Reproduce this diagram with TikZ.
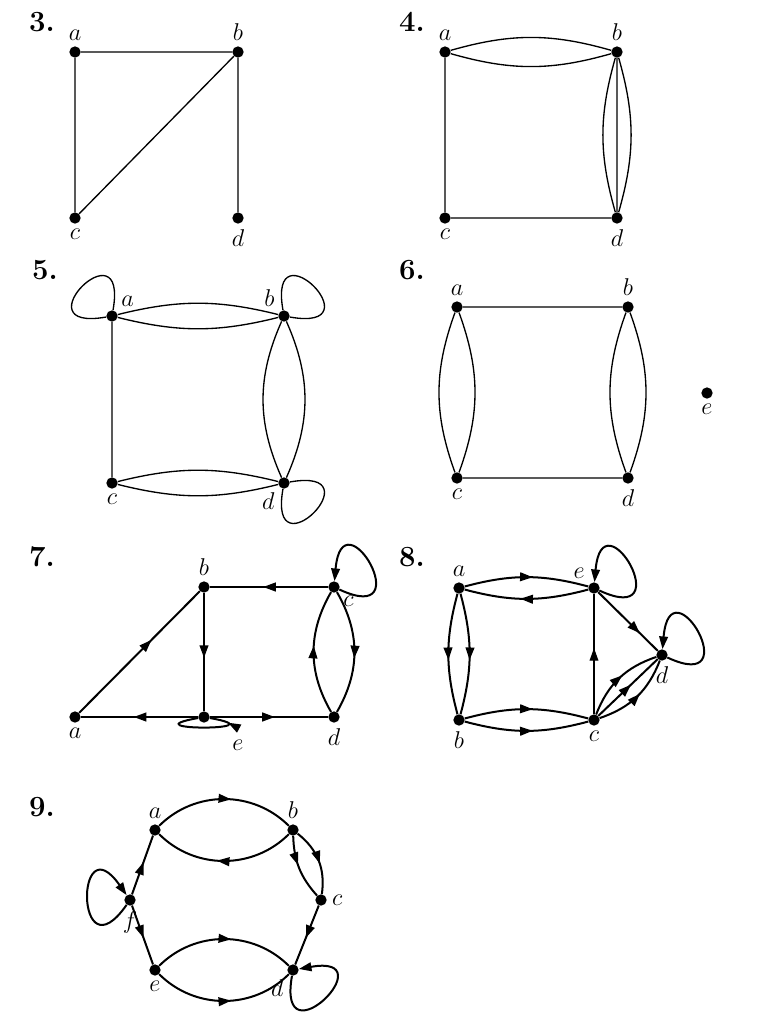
\documentclass[tikz,border=0pt]{standalone}
\usepackage{amsmath}
\usetikzlibrary{arrows.meta,decorations.markings}

\tikzset{
  vtx/.style={circle, fill, inner sep=0pt, minimum size=3.4mm},
  lbl/.style={font=\fontsize{20}{24}\selectfont, inner sep=1.5mm},
  num/.style={font=\fontsize{25}{30}\selectfont\bfseries},
  tip/.tip={Triangle[length=3.8mm, width=2.6mm]},
  midarrow/.style={postaction={decorate},
    decoration={markings, mark=at position #1 with {\arrow{tip}}}},
  midarrow/.default=0.55,
  loopy/.style={looseness=1, out distance=27mm, in distance=27mm},
  undir/.style={line width=0.4mm},
  dir/.style={line width=0.6mm}
}

\begin{document}
\begin{tikzpicture}[x=0.03cm, y=-0.03cm]
    \useasboundingbox (0,0) rectangle (757,1024);

    % Graph 3
    \node[num] (n3) at (42,22) {3.};
    \node[vtx, label={[lbl]above:$a$}] (a3) at (75,52) {};
    \node[vtx, label={[lbl]above:$b$}] (b3) at (238,52) {};
    \node[vtx, label={[lbl]below:$c$}] (c3) at (75,218) {};
    \node[vtx, label={[lbl]below:$d$}] (d3) at (238,218) {};
    \draw[undir] (a3) -- (b3) (a3) -- (c3) (b3) -- (c3) (b3) -- (d3);

    % Graph 4
    \node[num] (n4) at (412,22) {4.};
    \node[vtx, label={[lbl]above:$a$}] (a4) at (445,52) {};
    \node[vtx, label={[lbl]above:$b$}] (b4) at (617,52) {};
    \node[vtx, label={[lbl]below:$c$}] (c4) at (445,218) {};
    \node[vtx, label={[lbl]below:$d$}] (d4) at (617,218) {};
    \draw[undir] (a4) to[bend left=16] (b4) (a4) to[bend right=16] (b4)
        (b4) -- (d4) (b4) to[bend left=16] (d4) (b4) to[bend right=16] (d4)
        (a4) -- (c4) (c4) -- (d4);

    % Graph 5
    \node[num] (n5) at (45,270) {5.};
    \node[vtx, label={[lbl]above right:$a$}] (a5) at (112,316) {};
    \node[vtx, label={[lbl]above left:$b$}] (b5) at (284,316) {};
    \node[vtx, label={[lbl]below:$c$}] (c5) at (112,483) {};
    \node[vtx, label={[lbl]below left:$d$}] (d5) at (284,483) {};
    \draw[undir] (a5) to[bend left=14] (b5) (a5) to[bend right=14] (b5)
        (b5) to[bend left=24] (d5) (b5) to[bend right=24] (d5)
        (c5) to[bend left=14] (d5) (c5) to[bend right=14] (d5)
        (a5) -- (c5);
    \draw[undir] (a5) to[loopy, out=190, in=80] (a5);
    \draw[undir] (b5) to[loopy, out=100, in=-10] (b5);
    \draw[undir] (d5) to[loopy, out=10, in=-100] (d5);

    % Graph 6
    \node[num] (n6) at (412,270) {6.};
    \node[vtx, label={[lbl]above:$a$}] (a6) at (457,307) {};
    \node[vtx, label={[lbl]above:$b$}] (b6) at (628,307) {};
    \node[vtx, label={[lbl]below:$c$}] (c6) at (457,478) {};
    \node[vtx, label={[lbl]below:$d$}] (d6) at (628,478) {};
    \node[vtx, label={[lbl]below:$e$}] (e6) at (707,393) {};
    \draw[undir] (a6) -- (b6) (c6) -- (d6)
        (a6) to[bend left=20] (c6) (a6) to[bend right=20] (c6)
        (b6) to[bend left=20] (d6) (b6) to[bend right=20] (d6);

    % Graph 7
    \node[num] (n7) at (42,557) {7.};
    \node[vtx, label={[lbl]above:$b$}] (b7) at (204,587) {};
    \node[vtx, label={[lbl]below right:$c$}] (c7) at (334,587) {};
    \node[vtx, label={[lbl]below:$a$}] (a7) at (75,717) {};
    \node[vtx] (e7) at (204,717) {};
    \node[lbl] (le7) at (238,745) {$e$};
    \node[vtx, label={[lbl]below:$d$}] (d7) at (334,717) {};
    \draw[dir, midarrow=0.6] (a7) -- (b7);
    \draw[dir, midarrow] (c7) -- (b7);
    \draw[dir, midarrow] (b7) -- (e7);
    \draw[dir, midarrow] (e7) -- (a7);
    \draw[dir, midarrow] (e7) -- (d7);
    \draw[dir, midarrow] (c7) to[bend left=30] (d7);
    \draw[dir, midarrow] (d7) to[bend left=30] (c7);
    \draw[dir, -tip] (c7) to[loopy, out=-25, in=85] (c7);
    \draw[dir, midarrow=0.8] (e7) to[loopy, out=190, in=-10, out distance=22mm, in distance=22mm] (e7);

    % Graph 8
    \node[num] (n8) at (412,557) {8.};
    \node[vtx, label={[lbl]above:$a$}] (a8) at (459,588) {};
    \node[vtx, label={[lbl]above left:$e$}] (e8) at (594,588) {};
    \node[vtx, label={[lbl]below:$d$}] (d8) at (662,655) {};
    \node[vtx, label={[lbl]below:$b$}] (b8) at (459,720) {};
    \node[vtx, label={[lbl]below:$c$}] (c8) at (594,720) {};
    \draw[dir, midarrow] (a8) to[bend left=15] (e8);
    \draw[dir, midarrow] (e8) to[bend left=15] (a8);
    \draw[dir, midarrow] (a8) to[bend left=15] (b8);
    \draw[dir, midarrow] (a8) to[bend right=15] (b8);
    \draw[dir, midarrow] (b8) to[bend left=15] (c8);
    \draw[dir, midarrow] (b8) to[bend right=15] (c8);
    \draw[undir, midarrow] (c8) -- (e8);
    \draw[dir, midarrow=0.7] (e8) -- (d8);
    \draw[dir, midarrow] (c8) to[bend left=25] (d8);
    \draw[dir, midarrow] (c8) -- (d8);
    \draw[dir, midarrow] (c8) to[bend right=25] (d8);
    \draw[dir, -tip] (e8) to[loopy, out=-25, in=85] (e8);
    \draw[dir, -tip] (d8) to[loopy, out=-25, in=85] (d8);

    % Graph 9
    \node[num] (n9) at (42,807) {9.};
    \node[vtx, label={[lbl]above:$a$}] (a9) at (155,830) {};
    \node[vtx, label={[lbl]above:$b$}] (b9) at (293,830) {};
    \node[vtx, label={[lbl]right:$c$}] (c9) at (321,900) {};
    \node[vtx, label={[lbl]below left:$d$}] (d9) at (293,970) {};
    \node[vtx, label={[lbl]below:$e$}] (e9) at (155,970) {};
    \node[vtx, label={[lbl]below:$f$}] (f9) at (130,900) {};
    \draw[dir, midarrow] (a9) to[bend left=45] (b9);
    \draw[dir, midarrow] (b9) to[bend left=45] (a9);
    \draw[dir, midarrow] (b9) to[bend left=30] (c9);
    \draw[dir, midarrow=0.45] (b9) to[bend right=20] (c9);
    \draw[dir, midarrow] (c9) -- (d9);
    \draw[dir, midarrow] (f9) -- (a9);
    \draw[dir, midarrow] (f9) -- (e9);
    \draw[dir, midarrow] (e9) to[bend left=45] (d9);
    \draw[dir, midarrow] (e9) to[bend right=45] (d9);
    \draw[dir, -tip] (f9) to[loopy, out=235, in=125] (f9);
    \draw[dir, -tip] (d9) to[loopy, out=-100, in=10] (d9);
\end{tikzpicture}
\end{document}
